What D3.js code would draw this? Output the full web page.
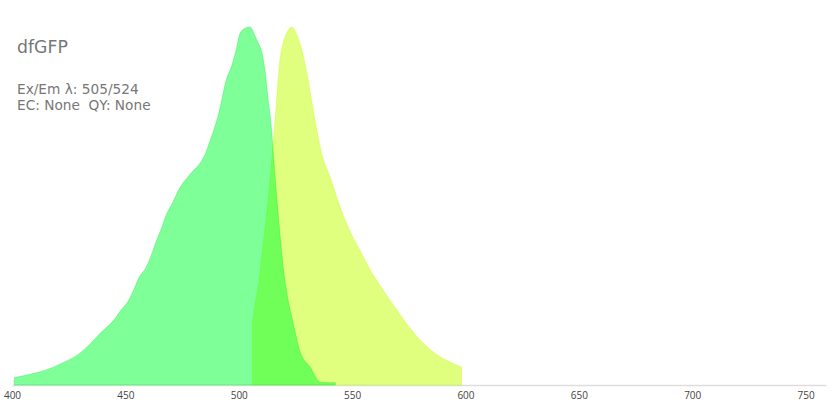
<!DOCTYPE html>
<html>
<head>
<meta charset="utf-8">
<script src="https://cdn.jsdelivr.net/npm/d3@7"></script>
<style>
  html, body { margin: 0; padding: 0; background: #fff; }
  svg { display: block; }
</style>
</head>
<body>
<svg id="chart" width="840" height="420"></svg>
<script>
const title = "dfGFP";
const subtitle1 = "Ex/Em λ: 505/524";
const subtitle2 = "EC: None  QY: None";
const tickValues = [400, 450, 500, 550, 600, 650, 700, 750];

const exWavelength = [401, 408, 415, 422, 430, 434, 439, 445, 448, 451, 454, 456, 459, 461, 463, 466, 468, 471, 473, 479, 483, 485, 487, 489, 491, 494.5, 497, 499, 500.6, 503, 505, 507, 508.6, 510.3, 511.7, 513, 514.5, 515.3, 517, 518.3, 519.6, 521.8, 524, 527.1, 531.5, 535.9, 542.6];
const exValue = [0.020, 0.030, 0.042, 0.061, 0.089, 0.112, 0.145, 0.182, 0.209, 0.232, 0.270, 0.300, 0.327, 0.355, 0.391, 0.439, 0.475, 0.511, 0.539, 0.592, 0.620, 0.642, 0.676, 0.712, 0.754, 0.852, 0.894, 0.940, 0.983, 0.997, 1.000, 0.978, 0.955, 0.927, 0.872, 0.796, 0.712, 0.640, 0.508, 0.413, 0.330, 0.237, 0.173, 0.092, 0.050, 0.008, 0.006];

const emWavelength = [506, 507, 509, 510.3, 512, 513.5, 514.8, 516.6, 518, 519.6, 521.4, 523.5, 524, 526, 528.2, 530.4, 532.6, 535, 537, 540.3, 544.7, 550.3, 553.4, 558, 563.7, 569.8, 575.5, 581.3, 587.5, 593.2, 598.3];
const emValue = [0.173, 0.218, 0.293, 0.369, 0.461, 0.553, 0.648, 0.788, 0.899, 0.955, 0.986, 1.000, 0.997, 0.972, 0.927, 0.860, 0.777, 0.693, 0.637, 0.581, 0.497, 0.413, 0.377, 0.321, 0.265, 0.209, 0.159, 0.117, 0.084, 0.064, 0.050];

const exData = exWavelength.map((w, i) => ({ w, v: exValue[i] }));
const emData = emWavelength.map((w, i) => ({ w, v: emValue[i] }));

const svg = d3.select("#chart");
const x = d3.scaleLinear().domain([400, 759]).range([12, 826]);
const y = d3.scaleLinear().domain([0, 1]).range([385, 27]);

// axis
const axis = d3.axisBottom(x).tickValues(tickValues).tickSize(0).tickPadding(7).tickFormat(d3.format("d"));
const gAxis = svg.append("g").attr("transform", `translate(0,${y(0)})`).call(axis);
gAxis.select(".domain").attr("stroke", "#dddddd").attr("stroke-width", 1.5);
gAxis.selectAll("text").attr("fill", "#444").attr("font-size", 10).attr("font-family", "'Open Sans', sans-serif");

const area = d3.area()
  .x(d => x(d.w))
  .y0(y(0))
  .y1(d => y(d.v))
  .curve(d3.curveMonotoneX);

svg.append("path")
  .datum(emData)
  .attr("d", area)
  .attr("fill", "rgb(193,255,0)")
  .attr("fill-opacity", 0.5)
  .attr("stroke", "rgb(193,255,0)")
  .attr("stroke-opacity", 0.35)
  .attr("stroke-width", 1);

svg.append("path")
  .datum(exData)
  .attr("d", area)
  .attr("fill", "rgb(0,255,50)")
  .attr("fill-opacity", 0.5)
  .attr("stroke", "rgb(0,230,50)")
  .attr("stroke-opacity", 0.3)
  .attr("stroke-width", 1);

// titles
svg.append("text").attr("x", 17).attr("y", 53).text(title)
  .attr("font-family", "'DejaVu Sans', sans-serif").attr("font-size", 17.3).attr("fill", "#777");
svg.append("text").attr("x", 17).attr("y", 94).text(subtitle1)
  .attr("font-family", "'DejaVu Sans', sans-serif").attr("font-size", 13.7).attr("fill", "#777");
svg.append("text").attr("x", 17).attr("y", 110).text(subtitle2)
  .attr("font-family", "'DejaVu Sans', sans-serif").attr("font-size", 13.7).attr("fill", "#777")
  .attr("xml:space", "preserve").style("white-space", "pre");
</script>
</body>
</html>
